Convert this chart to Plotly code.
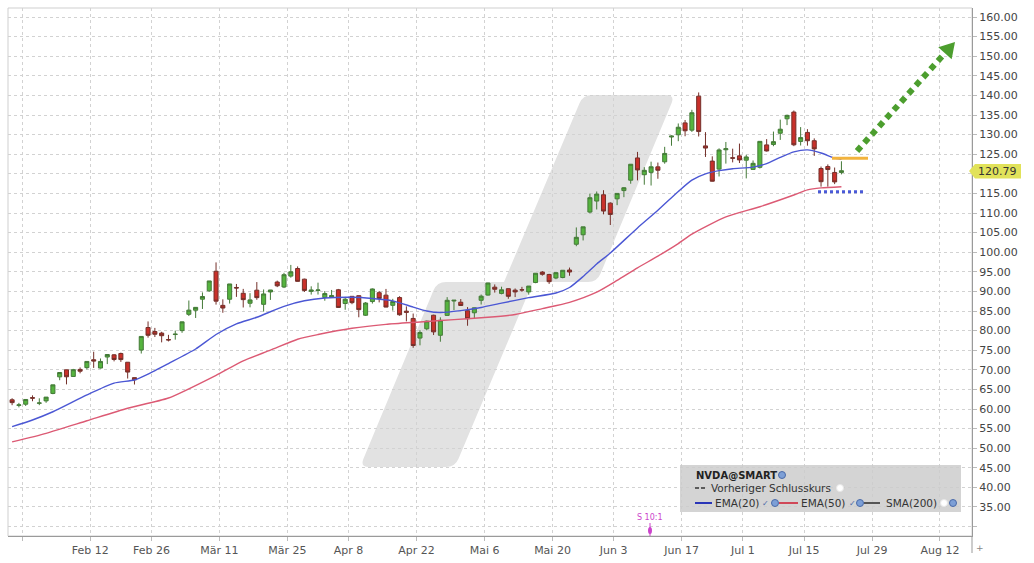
import plotly.graph_objects as go

# ---------------- data ----------------
dates = ["2024-01-25","2024-01-26","2024-01-29","2024-01-30","2024-01-31","2024-02-01","2024-02-02",
         "2024-02-05","2024-02-06","2024-02-07","2024-02-08","2024-02-09",
         "2024-02-12","2024-02-13","2024-02-14","2024-02-15","2024-02-16","2024-02-20","2024-02-21",
         "2024-02-22","2024-02-23",
         "2024-02-26","2024-02-27","2024-02-28","2024-02-29","2024-03-01",
         "2024-03-04","2024-03-05","2024-03-06","2024-03-07","2024-03-08",
         "2024-03-11","2024-03-12","2024-03-13","2024-03-14","2024-03-15",
         "2024-03-18","2024-03-19","2024-03-20","2024-03-21","2024-03-22",
         "2024-03-25","2024-03-26","2024-03-27","2024-03-28",
         "2024-04-01","2024-04-02","2024-04-03","2024-04-04","2024-04-05",
         "2024-04-08","2024-04-09","2024-04-10","2024-04-11","2024-04-12",
         "2024-04-15","2024-04-16","2024-04-17","2024-04-18","2024-04-19",
         "2024-04-22","2024-04-23","2024-04-24","2024-04-25","2024-04-26",
         "2024-04-29","2024-04-30","2024-05-01","2024-05-02","2024-05-03",
         "2024-05-06","2024-05-07","2024-05-08","2024-05-09","2024-05-10",
         "2024-05-13","2024-05-14","2024-05-15","2024-05-16","2024-05-17",
         "2024-05-20","2024-05-21","2024-05-22","2024-05-23","2024-05-24",
         "2024-05-28","2024-05-29","2024-05-30","2024-05-31",
         "2024-06-03","2024-06-04","2024-06-05","2024-06-06","2024-06-07",
         "2024-06-10","2024-06-11","2024-06-12","2024-06-13","2024-06-14",
         "2024-06-17","2024-06-18","2024-06-20","2024-06-21",
         "2024-06-24","2024-06-25","2024-06-26","2024-06-27","2024-06-28",
         "2024-07-01","2024-07-02","2024-07-03","2024-07-05",
         "2024-07-08","2024-07-09","2024-07-10","2024-07-11","2024-07-12",
         "2024-07-15","2024-07-16","2024-07-17","2024-07-18","2024-07-19",
         "2024-07-22"]

open_ = [62.35, 60.93, 61.22, 62.90, 61.48, 62.07, 63.97, 68.20, 70.00, 68.30, 70.10, 70.55,
         72.57, 70.45, 73.26, 73.82, 74.16, 71.93, 68.00, 75.03, 80.79,
         79.77, 79.37, 77.72, 79.00, 80.00,
         84.15, 85.20, 88.01, 90.15, 95.14,
         86.44, 88.00, 91.00, 89.52, 86.98,
         90.31, 86.70, 89.86, 92.39, 91.12,
         93.90, 95.84, 93.12, 90.00,
         90.23, 88.44, 88.44, 90.42, 86.91,
         88.74, 88.91, 83.92, 87.41, 89.67,
         89.04, 86.45, 88.43, 84.96, 83.10,
         78.10, 80.46, 83.92, 78.81, 83.88,
         87.55, 87.24, 85.08, 84.55, 87.73,
         89.06, 91.08, 89.49, 90.69, 90.32,
         90.42, 89.87, 92.26, 94.93, 94.32,
         93.42, 93.54, 95.46, 102.03, 104.45,
         110.24, 113.05, 114.65, 112.52,
         113.62, 115.72, 118.37, 124.05, 119.77,
         120.37, 121.77, 123.06, 129.39, 129.96,
         132.99, 131.14, 139.80, 127.12,
         123.24, 121.20, 126.13, 124.10, 124.58,
         123.47, 121.13, 121.66, 127.38,
         127.49, 130.35, 134.03, 135.75, 128.26,
         130.56, 128.44, 121.35, 121.85, 120.35,
         120.35]

high = [62.75, 61.56, 62.49, 63.48, 62.73, 63.03, 66.17, 69.40, 70.03, 70.23, 70.60, 72.14,
        74.61, 72.89, 73.90, 73.99, 74.38, 71.95, 68.03, 78.57, 82.34,
        80.69, 79.70, 78.92, 80.00, 82.30,
        87.68, 86.00, 89.74, 92.67, 97.40,
        87.98, 91.90, 91.90, 90.64, 89.55,
        92.38, 90.50, 90.37, 92.75, 94.74,
        96.76, 96.37, 93.25, 91.30,
        92.23, 90.09, 90.37, 90.63, 88.60,
        88.83, 88.91, 87.28, 90.75, 90.11,
        90.63, 88.10, 88.78, 86.18, 84.35,
        80.10, 82.57, 84.05, 83.38, 88.54,
        87.79, 88.05, 86.00, 85.84, 89.20,
        92.19, 91.78, 91.20, 90.74, 90.75,
        91.16, 91.37, 94.63, 95.20, 94.48,
        94.89, 95.39, 96.08, 106.32, 106.48,
        114.94, 115.49, 115.82, 112.72,
        115.00, 116.60, 122.45, 125.59, 121.69,
        123.10, 122.87, 126.88, 129.80, 132.84,
        133.73, 136.33, 140.76, 130.63,
        124.46, 126.50, 128.12, 126.41, 127.71,
        124.84, 123.41, 128.28, 128.85,
        130.77, 133.82, 135.10, 136.15, 131.92,
        131.39, 129.04, 121.85, 122.40, 121.60,
        123.20]

low = [60.97, 60.42, 60.77, 61.98, 60.98, 61.58, 63.77, 67.34, 66.28, 68.30, 69.10, 70.10,
       70.48, 70.34, 71.46, 72.15, 72.01, 67.77, 66.25, 74.15, 78.20,
       78.36, 77.00, 77.24, 77.69, 79.44,
       83.72, 83.22, 85.52, 89.89, 86.63,
       84.55, 86.90, 88.60, 85.90, 85.94,
       87.86, 84.85, 87.83, 91.09, 90.85,
       93.50, 92.52, 89.86, 89.19,
       89.20, 87.62, 88.40, 85.80, 85.32,
       86.73, 83.40, 83.74, 86.90, 87.20,
       85.95, 85.10, 83.80, 82.35, 75.61,
       76.24, 80.06, 78.87, 77.16, 83.87,
       85.24, 86.31, 81.24, 83.07, 86.65,
       88.93, 89.70, 89.25, 88.12, 88.55,
       89.90, 89.17, 92.09, 94.01, 91.92,
       93.11, 93.35, 93.99, 101.53, 103.00,
       109.88, 110.90, 109.66, 106.94,
       112.00, 114.04, 117.47, 118.32, 117.22,
       117.01, 118.74, 122.57, 127.16, 128.32,
       129.58, 130.69, 129.52, 124.30,
       118.04, 119.32, 122.60, 122.92, 122.75,
       118.83, 121.03, 121.36, 125.68,
       127.04, 128.65, 132.42, 127.05, 127.22,
       127.18, 124.58, 116.72, 116.71, 117.37,
       119.86]

close = [61.63, 61.04, 62.43, 62.77, 61.53, 63.03, 66.16, 69.31, 68.22, 70.03, 69.64, 72.13,
         72.23, 72.13, 73.90, 72.63, 72.61, 69.42, 67.45, 78.51, 78.81,
         79.07, 78.70, 77.62, 79.09, 82.23,
         85.22, 85.93, 88.70, 92.67, 87.51,
         85.76, 91.90, 90.87, 87.90, 87.83,
         88.41, 89.35, 90.36, 91.42, 94.26,
         95.00, 92.56, 90.25, 90.36,
         90.36, 89.45, 88.96, 85.91, 88.01,
         87.13, 85.35, 87.04, 90.62, 88.19,
         86.00, 87.42, 84.04, 84.67, 76.20,
         79.51, 82.41, 79.68, 82.63, 87.73,
         87.74, 86.40, 83.04, 85.82, 88.79,
         92.14, 90.55, 90.41, 88.75, 89.87,
         90.38, 91.36, 94.63, 94.36, 92.48,
         94.78, 95.39, 94.95, 103.80, 106.47,
         113.90, 114.83, 110.50, 109.63,
         115.00, 116.44, 122.44, 120.99, 120.89,
         121.79, 120.91, 125.20, 129.61, 131.88,
         130.98, 135.58, 130.78, 126.57,
         118.11, 126.09, 126.40, 123.99, 123.54,
         124.30, 122.67, 128.28, 125.83,
         128.20, 131.38, 134.91, 127.40, 129.24,
         128.44, 126.36, 117.99, 121.09, 117.93,
         120.79]

ema20_dates = ["2024-01-25","2024-01-30","2024-02-02","2024-02-09","2024-02-15","2024-02-21",
               "2024-02-23","2024-02-28","2024-03-05","2024-03-08","2024-03-13","2024-03-18",
               "2024-03-22","2024-03-27","2024-04-02","2024-04-08","2024-04-11","2024-04-16",
               "2024-04-19","2024-04-23","2024-04-25","2024-04-30","2024-05-03","2024-05-08",
               "2024-05-14","2024-05-20","2024-05-22","2024-05-24","2024-05-29","2024-05-31",
               "2024-06-06","2024-06-11","2024-06-14","2024-06-18","2024-06-21","2024-06-25",
               "2024-06-27","2024-07-02","2024-07-05","2024-07-09","2024-07-11","2024-07-15",
               "2024-07-17","2024-07-19","2024-07-22"]
ema20_values = [55.5, 57.2, 59.3, 63.6, 66.6, 67.4,
                68.9, 71.6, 75.3, 79.0, 81.7, 83.4,
                86.2, 87.6, 88.3, 88.5, 88.2, 87.6,
                86.0, 85.0, 84.6, 85.1, 85.9, 87.0,
                88.4, 89.6, 91.0, 93.8, 97.0, 99.8,
                106.2, 110.7, 115.5, 118.4, 120.0, 120.8,
                121.3, 121.7, 122.6, 124.2, 125.6, 126.1,
                125.3, 124.0, 123.7]

ema50_dates = ["2024-01-25","2024-02-01","2024-02-09","2024-02-20","2024-02-28","2024-03-08",
               "2024-03-14","2024-03-20","2024-03-26","2024-04-01","2024-04-08","2024-04-15",
               "2024-04-22","2024-04-29","2024-05-06","2024-05-10","2024-05-16","2024-05-22",
               "2024-05-29","2024-06-03","2024-06-06","2024-06-11","2024-06-14","2024-06-18",
               "2024-06-26","2024-07-03","2024-07-11","2024-07-15","2024-07-17","2024-07-22"]
ema50_values = [51.6, 53.8, 57.0, 60.2, 62.8, 68.6,
                72.3, 75.0, 77.8, 79.0, 80.6, 81.6,
                82.2, 82.8, 83.4, 84.1, 85.6, 87.2,
                89.8, 92.8, 96.0, 99.0, 102.2, 104.6,
                109.0, 111.6, 114.6, 115.9, 116.4, 116.7]

x_tick_dates = ["2024-01-29","2024-02-12","2024-02-26","2024-03-11","2024-03-25","2024-04-08",
                "2024-04-22","2024-05-06","2024-05-20","2024-06-03","2024-06-17","2024-07-01",
                "2024-07-15","2024-07-29","2024-08-12"]
x_tick_labels = ["", "Feb 12", "Feb 26", "Mär 11", "Mär 25", "Apr 8", "Apr 22", "Mai 6",
                 "Mai 20", "Jun 3", "Jun 17", "Jul 1", "Jul 15", "Jul 29", "Aug 12"]

y_tick_values = [30, 35, 40, 45, 50, 55, 60, 65, 70, 75, 80, 85, 90, 95, 100, 105, 110, 115,
                 120, 125, 130, 135, 140, 145, 150, 155, 160]
y_tick_labels = ["", "35.00", "40.00", "45.00", "50.00", "55.00", "60.00", "65.00", "70.00",
                 "75.00", "80.00", "85.00", "90.00", "95.00", "100.00", "105.00", "110.00",
                 "115.00", "", "125.00", "130.00", "135.00", "140.00", "145.00", "150.00",
                 "155.00", "160.00"]

holidays = ["2024-02-19", "2024-03-29", "2024-05-27", "2024-06-19", "2024-07-04"]

last_price = 120.79
resistance_level = 124.0
support_level = 115.4

# ---------------- layout helpers (pixel -> paper) ----------------
PL, PR, PT, PB = 8, 972, 8, 536
W, H = 1034, 563


def px(x):
    return (x - PL) / (PR - PL)


def py(y):
    return (PB - y) / (PB - PT)


def rounded_path(points, radii):
    n = len(points)
    segs = []
    for i in range(n):
        p0 = points[i - 1]
        p1 = points[i]
        p2 = points[(i + 1) % n]
        r = radii[i]
        if r <= 0:
            a = b = p1
        else:
            d0 = ((p0[0] - p1[0]) ** 2 + (p0[1] - p1[1]) ** 2) ** 0.5
            d2 = ((p2[0] - p1[0]) ** 2 + (p2[1] - p1[1]) ** 2) ** 0.5
            a = (p1[0] + r * (p0[0] - p1[0]) / d0, p1[1] + r * (p0[1] - p1[1]) / d0)
            b = (p1[0] + r * (p2[0] - p1[0]) / d2, p1[1] + r * (p2[1] - p1[1]) / d2)
        segs.append((a, p1, b, r))
    path = "M %.5f,%.5f " % (px(segs[0][0][0]), py(segs[0][0][1]))
    for i, (a, c, b, r) in enumerate(segs):
        if i > 0:
            path += "L %.5f,%.5f " % (px(a[0]), py(a[1]))
        if r > 0:
            path += "Q %.5f,%.5f %.5f,%.5f " % (px(c[0]), py(c[1]), px(b[0]), py(b[1]))
    path += "Z"
    return path


candle_x = [d + " 12:00" for d in dates]
ema20_x = [d + " 12:00" for d in ema20_dates]
ema50_x = [d + " 12:00" for d in ema50_dates]

fig = go.Figure()

fig.add_trace(go.Scatter(x=ema50_x, y=ema50_values, mode="lines",
                         line=dict(color="#dc5a74", width=1.4, shape="spline", smoothing=0.6),
                         hoverinfo="skip", showlegend=False))
fig.add_trace(go.Scatter(x=ema20_x, y=ema20_values, mode="lines",
                         line=dict(color="#4b57d4", width=1.4, shape="spline", smoothing=0.6),
                         hoverinfo="skip", showlegend=False))
fig.add_trace(go.Candlestick(
    x=candle_x, open=open_, high=high, low=low, close=close,
    increasing=dict(fillcolor="#55b43e", line=dict(color="#447a38", width=1)),
    decreasing=dict(fillcolor="#c9302a", line=dict(color="#74302a", width=1)),
    whiskerwidth=0, showlegend=False))

shapes = []
# watermark stroke
wm_pts = [(360, 467), (437, 282), (504, 282), (583, 95), (675, 95), (597, 282),
          (533, 282), (455, 467)]
wm_r = [9, 9, 0, 9, 9, 9, 0, 9]
shapes.append(dict(type="path", xref="paper", yref="paper", path=rounded_path(wm_pts, wm_r),
                   fillcolor="#e2e2e2", line=dict(width=0), layer="below"))
# light frame
shapes.append(dict(type="rect", xref="paper", yref="paper", x0=0, x1=1, y0=0, y1=1,
                   line=dict(color="#cfcfcf", width=1), layer="below"))
# axis extension below the plot on right
shapes.append(dict(type="line", xref="paper", yref="paper", x0=px(972), x1=px(972),
                   y0=py(536), y1=py(553), line=dict(color="#9a9a9a", width=1)))
# resistance (orange) and support (blue dotted)
shapes.append(dict(type="line", xref="paper", yref="y", x0=px(832), x1=px(868),
                   y0=resistance_level, y1=resistance_level,
                   line=dict(color="#f2b33d", width=3)))
shapes.append(dict(type="line", xref="paper", yref="y", x0=px(818), x1=px(864),
                   y0=support_level, y1=support_level,
                   line=dict(color="#4a5ad8", width=3, dash="3px,3px")))
# green dotted arrow
tip = (955, 42)
start = (857, 151)
ux, uy = tip[0] - start[0], tip[1] - start[1]
ln = (ux ** 2 + uy ** 2) ** 0.5
ux, uy = ux / ln, uy / ln
nx, ny = -uy, ux
base = (tip[0] - 15 * ux, tip[1] - 15 * uy)
shapes.append(dict(type="line", xref="paper", yref="paper", x0=px(start[0]), y0=py(start[1]),
                   x1=px(base[0]), y1=py(base[1]),
                   line=dict(color="#4c9e2e", width=6, dash="6px,5px")))
c1 = (base[0] + 9 * nx, base[1] + 9 * ny)
c2 = (base[0] - 9 * nx, base[1] - 9 * ny)
shapes.append(dict(type="path", xref="paper", yref="paper",
                   path="M %.5f,%.5f L %.5f,%.5f L %.5f,%.5f Z" % (
                       px(tip[0]), py(tip[1]), px(c1[0]), py(c1[1]), px(c2[0]), py(c2[1])),
                   fillcolor="#4c9e2e", line=dict(width=0)))
# last price tag
tag_pts = [(969, 171), (975, 164), (1021, 164), (1021, 178.5), (975, 178.5)]
shapes.append(dict(type="path", xref="paper", yref="paper",
                   path="M " + " L ".join("%.5f,%.5f" % (px(a), py(b)) for a, b in tag_pts) + " Z",
                   fillcolor="#e1e25a", line=dict(width=0)))
# split marker
shapes.append(dict(type="line", xref="paper", yref="paper", x0=px(650), x1=px(650),
                   y0=py(523), y1=py(536), line=dict(color="#cc44cc", width=1)))
shapes.append(dict(type="circle", xref="paper", yref="paper", x0=px(648), x1=px(652),
                   y0=py(534), y1=py(527), fillcolor="#cc44cc", line=dict(width=0)))

# legend box
shapes.append(dict(type="rect", xref="paper", yref="paper", x0=px(680), x1=px(961),
                   y0=py(512), y1=py(465), fillcolor="rgba(205,205,205,0.85)",
                   line=dict(width=0)))
shapes.append(dict(type="line", xref="paper", yref="paper", x0=px(695), x1=px(707),
                   y0=py(488), y1=py(488), line=dict(color="#333333", width=1.5, dash="4px,2px")))
shapes.append(dict(type="line", xref="paper", yref="paper", x0=px(695), x1=px(712),
                   y0=py(503), y1=py(503), line=dict(color="#2a36b8", width=2)))
shapes.append(dict(type="line", xref="paper", yref="paper", x0=px(779), x1=px(798),
                   y0=py(503), y1=py(503), line=dict(color="#d04858", width=2)))
shapes.append(dict(type="line", xref="paper", yref="paper", x0=px(864), x1=px(880),
                   y0=py(503), y1=py(503), line=dict(color="#555555", width=2)))
for cx in (782, 775, 860, 953):
    cy = 475 if cx == 782 else 503
    shapes.append(dict(type="circle", xref="paper", yref="paper", x0=px(cx - 3.5), x1=px(cx + 3.5),
                       y0=py(cy + 3.5), y1=py(cy - 3.5), fillcolor="#7d9fd6",
                       line=dict(color="#4a6aa8", width=1)))
for cx, cy in ((840, 488), (944, 503)):
    shapes.append(dict(type="circle", xref="paper", yref="paper", x0=px(cx - 3.5), x1=px(cx + 3.5),
                       y0=py(cy + 3.5), y1=py(cy - 3.5), fillcolor="#ffffff",
                       line=dict(color="#e8e8e8", width=1)))

annotations = []


def note(x, y, text, size=10.5, color="#333333", anchor="left"):
    annotations.append(dict(xref="paper", yref="paper", x=px(x), y=py(y), text=text,
                            showarrow=False, xanchor=anchor, yanchor="middle",
                            font=dict(size=size, color=color, family="DejaVu Sans")))


note(694, 475, "<b>NVDA@SMART</b>", size=10, color="#222222")
note(709, 488, "Vorheriger Schlusskurs")
note(713, 503, "EMA(20)")
note(765, 503, "✓", size=8, color="#4a6aa8", anchor="center")
note(799, 503, "EMA(50)")
note(852, 503, "✓", size=8, color="#4a6aa8", anchor="center")
note(884, 503, "SMA(200)")
note(650, 517, "S 10:1", size=8, color="#cc44cc", anchor="center")
note(998, 171.5, "%.2f" % last_price, size=11, color="#333333", anchor="center")
note(980, 548, "+", size=9, color="#888888", anchor="center")

fig.update_layout(
    width=W, height=H,
    margin=dict(l=PL, r=W - PR, t=PT, b=H - PB, pad=0),
    paper_bgcolor="white", plot_bgcolor="rgba(0,0,0,0)",
    font=dict(family="DejaVu Sans", size=11, color="#444444"),
    showlegend=False,
    boxgap=0.15,
    shapes=shapes,
    annotations=annotations,
    xaxis=dict(
        type="date",
        range=["2024-01-24 21:30", "2024-08-16 17:00"],
        rangebreaks=[dict(bounds=["sat", "mon"]), dict(values=holidays)],
        tickvals=x_tick_dates, ticktext=x_tick_labels,
        showgrid=True, gridcolor="#d2d2d2", griddash="dot", gridwidth=1,
        showline=True, linecolor="#9a9a9a", linewidth=1,
        ticks="outside", ticklen=4, tickcolor="#bbbbbb",
        tickfont=dict(size=11, color="#555555"),
        rangeslider=dict(visible=False), zeroline=False, automargin=False,
    ),
    yaxis=dict(
        side="right",
        range=[27.6, 162.3],
        tickvals=y_tick_values, ticktext=y_tick_labels,
        showgrid=True, gridcolor="#d2d2d2", griddash="dot", gridwidth=1,
        showline=True, linecolor="#9a9a9a", linewidth=1,
        ticks="outside", ticklen=4, tickcolor="#bbbbbb",
        tickfont=dict(size=11, color="#444444"),
        zeroline=False, automargin=False,
    ),
)

fig.write_html("out.html")
